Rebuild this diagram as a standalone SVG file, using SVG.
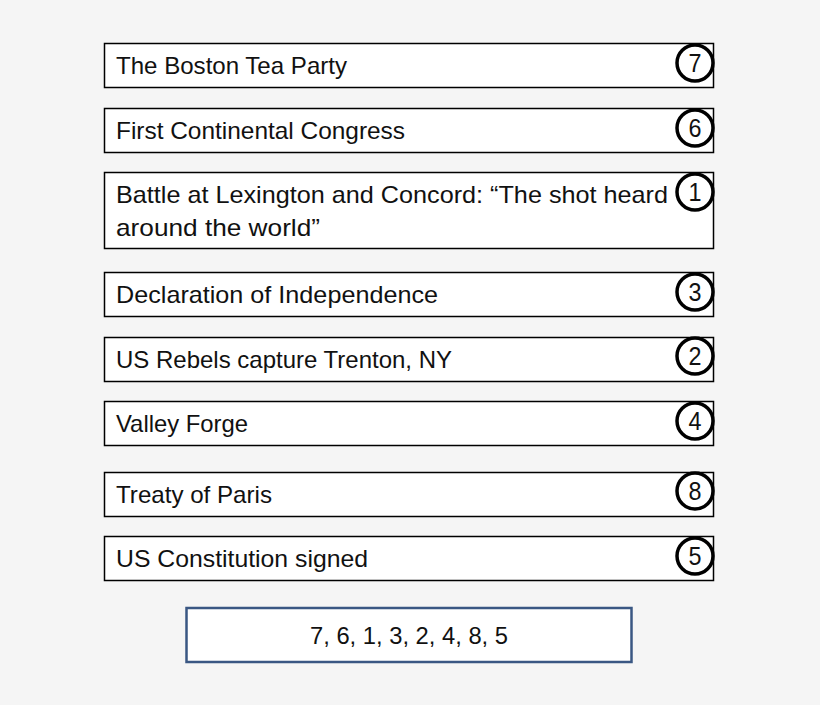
<svg xmlns="http://www.w3.org/2000/svg" width="820" height="705" viewBox="0 0 820 705">
<style>
.box{fill:#fff;stroke:#000;stroke-width:1.5}
.t{font-family:"Liberation Sans",Arial,sans-serif;font-size:24px;fill:#111}
.c{fill:#fff;stroke:#000;stroke-width:3.5}
.n{font-family:"Liberation Sans",Arial,sans-serif;font-size:26px;fill:#111;text-anchor:middle}
</style>
<rect width="820" height="705" fill="#f5f5f5"/>
<g id="n1"><rect class="box" x="104.5" y="43.5" width="609" height="44"/><text class="t" x="116" y="74" textLength="231" lengthAdjust="spacingAndGlyphs">The Boston Tea Party</text><circle class="c" cx="695" cy="63" r="18"/><text class="n" x="695" y="72" textLength="13" lengthAdjust="spacingAndGlyphs">7</text></g>
<g id="n2"><rect class="box" x="104.5" y="108.5" width="609" height="44"/><text class="t" x="116" y="139" textLength="289" lengthAdjust="spacingAndGlyphs">First Continental Congress</text><circle class="c" cx="695" cy="128" r="18"/><text class="n" x="695" y="137" textLength="13" lengthAdjust="spacingAndGlyphs">6</text></g>
<g id="n3"><rect class="box" x="104.5" y="172.5" width="609" height="76"/><text class="t" x="116" y="203" textLength="552" lengthAdjust="spacingAndGlyphs">Battle at Lexington and Concord:  “The shot heard</text><text class="t" x="116" y="236" textLength="204" lengthAdjust="spacingAndGlyphs">around the world”</text><circle class="c" cx="695" cy="192" r="18"/><text class="n" x="695" y="201" textLength="13" lengthAdjust="spacingAndGlyphs">1</text></g>
<g id="n4"><rect class="box" x="104.5" y="272.5" width="609" height="44"/><text class="t" x="116" y="303" textLength="322" lengthAdjust="spacingAndGlyphs">Declaration of Independence</text><circle class="c" cx="695" cy="292" r="18"/><text class="n" x="695" y="301" textLength="13" lengthAdjust="spacingAndGlyphs">3</text></g>
<g id="n5"><rect class="box" x="104.5" y="337.5" width="609" height="44"/><text class="t" x="116" y="368" textLength="336" lengthAdjust="spacingAndGlyphs">US Rebels capture Trenton, NY</text><circle class="c" cx="695" cy="356" r="18"/><text class="n" x="695" y="365" textLength="13" lengthAdjust="spacingAndGlyphs">2</text></g>
<g id="n6"><rect class="box" x="104.5" y="401.5" width="609" height="44"/><text class="t" x="116" y="432" textLength="132" lengthAdjust="spacingAndGlyphs">Valley Forge</text><circle class="c" cx="695" cy="421" r="18"/><text class="n" x="695" y="430" textLength="13" lengthAdjust="spacingAndGlyphs">4</text></g>
<g id="n7"><rect class="box" x="104.5" y="472.5" width="609" height="44"/><text class="t" x="116" y="503" textLength="156" lengthAdjust="spacingAndGlyphs">Treaty of Paris</text><circle class="c" cx="695" cy="491" r="18"/><text class="n" x="695" y="500" textLength="13" lengthAdjust="spacingAndGlyphs">8</text></g>
<g id="n8"><rect class="box" x="104.5" y="536.5" width="609" height="44"/><text class="t" x="116" y="567" textLength="252" lengthAdjust="spacingAndGlyphs">US Constitution signed</text><circle class="c" cx="695" cy="556" r="18"/><text class="n" x="695" y="565" textLength="13" lengthAdjust="spacingAndGlyphs">5</text></g>
<g id="answer"><rect x="186.5" y="608" width="445" height="54" fill="#fff" stroke="#3a5783" stroke-width="2.5"/><text class="t" x="310" y="644" textLength="198" lengthAdjust="spacingAndGlyphs">7, 6, 1, 3, 2, 4, 8, 5</text></g>
<g id="connectors"/>
</svg>
